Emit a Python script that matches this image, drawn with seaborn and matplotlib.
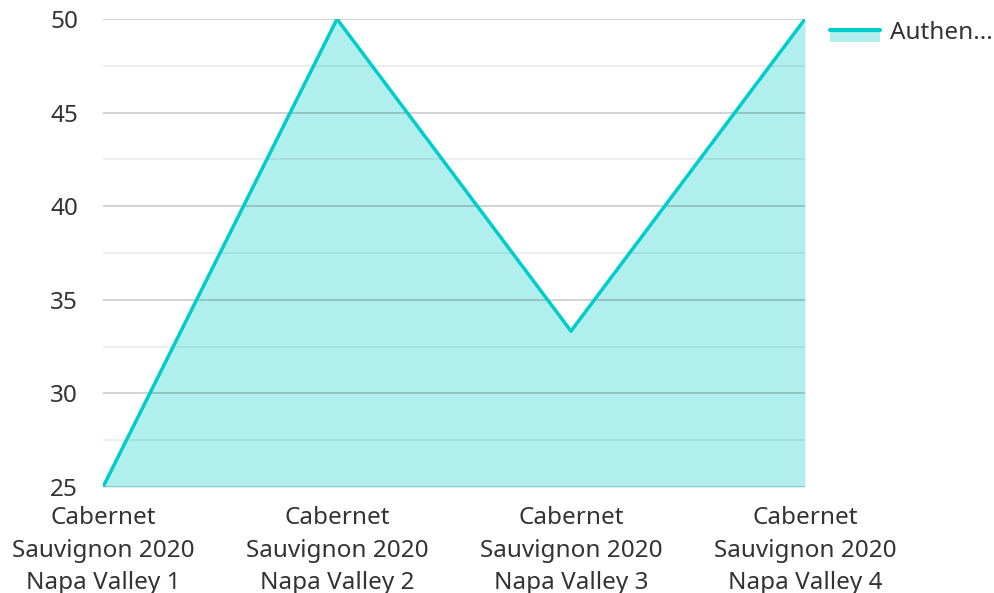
import matplotlib
matplotlib.use("Agg")
import matplotlib.pyplot as plt
from matplotlib.lines import Line2D
from matplotlib.patches import Patch, Rectangle
from matplotlib.legend_handler import HandlerBase
from matplotlib.ticker import MultipleLocator
import pandas as pd
import seaborn as sns

# ── Data ──────────────────────────────────────────────────────────────────────
categories = [
    "Cabernet\nSauvignon 2020\nNapa Valley 1",
    "Cabernet\nSauvignon 2020\nNapa Valley 2",
    "Cabernet\nSauvignon 2020\nNapa Valley 3",
    "Cabernet\nSauvignon 2020\nNapa Valley 4",
]
values = [25, 50, 33.33, 50]
series_name = "Authen..."

LINE = "#00CCCC"
FILL = "#B0EFEE"
TEXT = "#333333"
FS = 17.5


# legend handle: thin line on top, filled area below
class AreaHandler(HandlerBase):
    def create_artists(self, legend, orig_handle, xdescent, ydescent,
                       width, height, fontsize, trans):
        top = -ydescent + height * 0.55
        rect = Rectangle((-xdescent, top - height * 0.85), width, height * 0.85,
                         facecolor=FILL, edgecolor="none", transform=trans)
        line = Line2D([-xdescent, -xdescent + width], [top, top],
                      color=LINE, linewidth=3, transform=trans)
        return [rect, line]


sns.set_theme(style="white")
plt.rcParams["font.family"] = ["Noto Sans", "DejaVu Sans"]

df = pd.DataFrame({"label": categories, "value": values})
xs = list(range(len(categories)))

fig = plt.figure(figsize=(9.95, 5.93), dpi=100)
ax = fig.add_axes([103 / 995, 1 - 487 / 593, (805 - 103) / 995, (487 - 19) / 593])

ax.fill_between(xs, df["value"], 25, color=FILL, linewidth=0, zorder=1)
sns.lineplot(x=xs, y=df["value"], ax=ax, color=LINE, linewidth=2.5, zorder=3)

ax.set_xlim(0, len(categories) - 1)
ax.set_ylim(25, 50)
ax.set_xticks(xs)
ax.set_xticklabels(df["label"], fontsize=FS, color=TEXT, linespacing=1.45)
ax.yaxis.set_major_locator(MultipleLocator(5))
ax.yaxis.set_minor_locator(MultipleLocator(2.5))
ax.tick_params(axis="y", labelsize=FS, labelcolor=TEXT, length=0, pad=18)
ax.tick_params(axis="x", length=0, pad=14)
ax.tick_params(axis="y", which="minor", length=0)

ax.grid(True, axis="y", which="major", color="#000000", alpha=0.2, linewidth=1.2, zorder=2)
ax.grid(True, axis="y", which="minor", color="#000000", alpha=0.08, linewidth=1.2, zorder=2)
ax.set_axisbelow(False)
for s in ax.spines.values():
    s.set_visible(False)
ax.set_xlabel("")
ax.set_ylabel("")

proxy = Patch(facecolor=FILL)
fig.legend(
    [proxy], [series_name],
    handler_map={Patch: AreaHandler()},
    loc="upper left", bbox_to_anchor=(830 / 995, 1 - 21 / 593),
    frameon=False, fontsize=FS, borderpad=0, borderaxespad=0,
    handlelength=2.05, handleheight=0.55, handletextpad=0.42,
    labelcolor=TEXT,
)

fig.savefig("out.png", dpi=100)
